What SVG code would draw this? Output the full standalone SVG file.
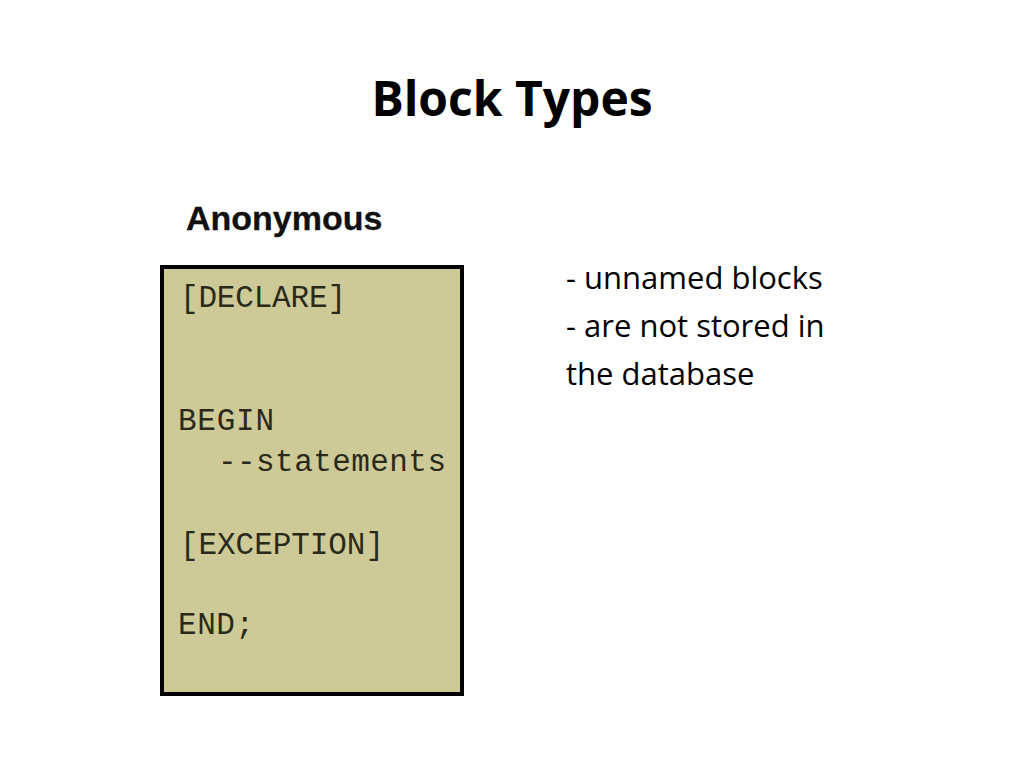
<svg xmlns="http://www.w3.org/2000/svg" width="1024" height="768" viewBox="0 0 1024 768">
<style>
.code{font-family:"Liberation Mono",monospace;font-size:31px;fill:#2a2a1a;}
.body{font-family:"Open Sans","Liberation Sans",sans-serif;font-size:31px;fill:#000;}
</style>
<rect width="1024" height="768" fill="#fff"/>
<text x="512" y="116" text-anchor="middle" font-family="'Open Sans','Liberation Sans',sans-serif" font-weight="bold" font-size="48" fill="#000">Block Types</text>
<g id="anon">
<text x="186" y="230" font-family="'Liberation Sans',sans-serif" font-weight="bold" font-size="34" fill="#111" stroke="#111" stroke-width="0.3">Anonymous</text>
<rect x="162" y="267" width="300" height="427" fill="#CECA98" stroke="#000" stroke-width="4"/>
<text class="code" x="180" y="307" textLength="166">[DECLARE]</text>
<text class="code" x="178" y="430" textLength="96">BEGIN</text>
<text class="code" x="218" y="471" textLength="228">--statements</text>
<text class="code" x="180" y="554" textLength="204">[EXCEPTION]</text>
<text class="code" x="178" y="634" textLength="76">END;</text>
</g>
<g id="notes">
<text class="body" x="566" y="289">- unnamed blocks</text>
<text class="body" x="566" y="337">- are not stored in</text>
<text class="body" x="566" y="385">the database</text>
</g>
</svg>
